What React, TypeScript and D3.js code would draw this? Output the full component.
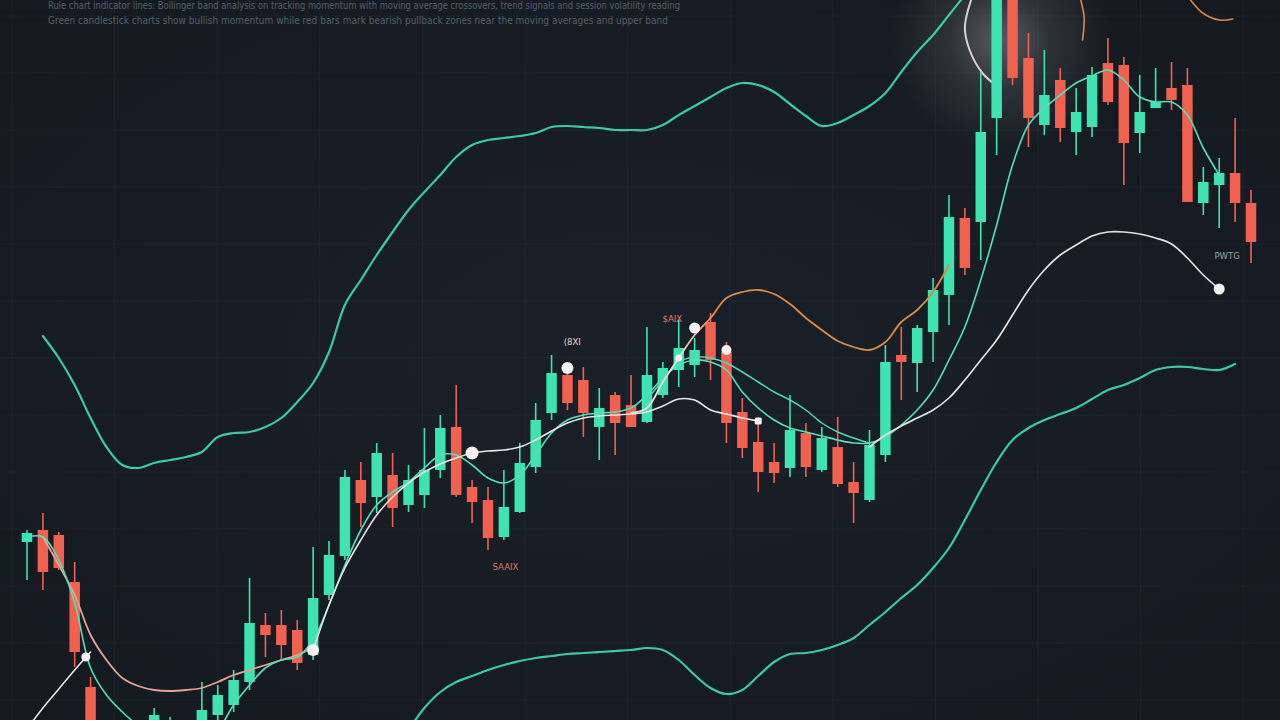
import React from 'react';
import * as d3 from 'd3';

const W = 1280;
const H = 720;

// ---- candles (index 0..77) ----
const candleOpen = [117.8,119.0,118.5,113.8,103.3,99.2,96.0,98.8,98.0,97.5,97.0,99.0,100.5,101.5,103.8,109.5,109.5,109.0,106.5,112.5,116.4,124.0,122.3,124.5,121.5,122.5,125.0,129.3,123.3,122.0,118.3,120.8,125.3,130.7,134.5,134.0,129.3,132.5,131.5,129.8,132.5,135.0,135.5,139.8,136.8,130.8,127.8,125.8,125.2,128.7,125.0,127.3,123.8,122.0,126.5,136.5,135.7,138.8,142.5,150.2,149.8,160.2,173.0,166.2,159.5,164.0,158.8,159.3,165.7,165.5,158.7,161.2,163.2,163.5,151.7,153.5,154.7,151.7];
const candleHigh = [119.0,120.7,118.8,115.8,104.3,99.6,99.2,99.4,101.2,100.3,99.3,103.8,103.5,105.0,114.2,110.7,111.0,110.0,117.3,117.9,125.0,125.8,127.7,126.7,125.5,129.2,130.5,133.5,124.0,123.3,125.0,127.7,131.7,136.5,135.7,135.3,133.2,132.8,134.5,139.3,135.8,140.0,138.2,140.7,137.8,132.2,130.0,127.7,132.5,129.7,129.3,130.3,125.8,129.0,137.5,139.3,139.5,144.2,152.5,151.2,164.8,175.0,175.0,168.7,167.0,165.2,163.2,165.3,168.2,166.3,164.5,165.2,165.8,165.2,155.3,156.2,160.2,153.0];
const candleLow = [114.0,113.0,115.0,105.3,98.5,96.0,95.0,96.5,97.0,96.5,96.2,98.0,100.0,100.8,103.0,106.3,106.0,105.0,106.0,112.0,116.0,119.3,120.7,119.3,120.8,121.2,124.2,122.3,119.7,117.0,118.0,120.7,124.7,130.0,131.0,128.3,126.0,126.5,129.3,129.7,132.2,133.3,134.3,134.0,127.7,126.2,122.8,123.7,124.3,124.3,124.8,123.3,119.7,121.8,125.8,132.0,132.8,135.8,139.5,144.5,146.0,156.5,163.5,157.3,158.5,157.8,156.5,158.3,161.5,153.5,156.7,161.2,161.0,151.8,150.5,149.2,149.8,145.7];
const candleClose = [118.7,114.8,115.2,106.8,99.5,97.0,98.4,97.2,100.5,99.6,98.8,101.0,102.5,104.0,109.7,108.5,107.5,105.7,112.2,116.5,124.3,121.7,126.7,121.2,124.0,125.0,129.2,122.5,121.8,118.2,121.3,125.7,130.0,134.7,131.7,130.7,131.2,129.7,129.3,134.5,135.2,137.2,137.0,136.0,129.7,127.2,124.8,124.7,129.0,125.3,128.2,123.6,122.7,127.5,135.8,135.8,139.2,143.0,150.3,145.2,158.8,174.0,164.2,160.2,162.5,159.2,160.8,164.5,161.8,157.7,160.8,161.8,162.0,151.8,153.8,154.7,151.7,147.8];

// ---- overlay lines: first index + values ----
const upperBandStart = 1;
const upperBand = [138.4,136.2,133.5,130.2,127.3,125.5,125.2,125.7,126.0,126.3,126.8,128.3,128.7,128.8,129.3,130.2,131.8,133.7,136.8,141.5,144.0,146.5,148.8,151.0,152.8,154.5,156.3,157.5,158.0,158.2,158.4,158.7,159.3,159.4,159.3,159.2,159.0,159.0,159.0,159.5,160.5,161.4,162.3,163.2,163.7,163.5,162.8,161.6,160.4,159.4,159.7,160.5,161.4,162.7,164.8,166.8,168.5,170.5,172.5];
const lowerBandStart = 24;
const lowerBand = [99.0,101.2,102.8,103.8,104.4,105.0,105.5,105.9,106.2,106.4,106.6,106.7,106.8,106.9,107.0,107.2,107.0,106.0,104.5,103.2,102.6,103.0,104.4,105.8,106.6,106.7,107.0,107.5,108.2,109.5,110.8,112.2,113.5,115.2,117.2,120.0,123.0,125.8,128.0,129.2,130.0,130.6,131.2,132.1,133.0,133.5,134.2,135.0,135.3,135.3,135.1,135.0,135.6];
const maFastStart = 0;
const maFast = [118.3,118.3,116.0,111.7,105.2,102.5,100.8,99.4,98.0,97.5,97.5,98.0,99.0,101.5,103.5,105.2,106.0,106.3,108.0,111.5,115.5,119.0,121.5,122.8,123.8,125.2,126.5,126.5,125.5,124.2,123.7,124.5,126.5,128.7,130.0,130.5,130.7,130.8,131.2,132.5,134.2,135.5,136.0,135.8,135.0,132.8,131.2,130.0,129.2,128.8,128.4,128.0,127.7,127.7,128.3,129.5,131.0,133.0,136.0,139.3,144.0,149.5,155.5,159.5,161.2,162.5,163.7,164.4,165.0,164.0,162.3,161.8,161.8,160.5,157.2,154.5];
const maMidStart = 39;
const maMid = [132.0,134.0,135.8,136.3,136.2,135.7,134.8,133.8,132.8,132.0,131.0,129.7,128.8,128.2,127.7];
const salmonStart = 1;
const salmonLine = [118.3,115.5,112.5,108.5,106.0,104.2,103.4,103.0,102.9,103.0,103.2,103.8,104.5,105.0,105.5,106.0,106.5,107.2];
const whiteLeftStart = 0;
const whiteLeft = [99.1,101.2,103.1,105.0,106.8];
const whiteMidStart = 18;
const whiteMid = [107.0,111.5,115.2,118.0,120.5,122.3,123.7,124.8,125.6,126.2,126.7,126.9,127.0,127.3,128.0,128.9,129.7,130.2,130.4,130.5,130.6,130.8,131.4,132.1,132.0,131.0,130.6,130.2,129.9];
const whiteRightStart = 53;
const whiteRight = [127.3,128.5,129.4,130.2,131.0,132.2,134.0,136.0,138.0,140.5,143.0,145.0,146.5,147.5,148.4,148.8,148.8,148.6,148.2,147.6,146.2,144.5,143.1];
const orangeStart = 38;
const orangeLine = [130.7,131.2,133.8,136.2,138.5,140.2,142.2,142.8,143.0,142.6,141.6,140.2,139.0,137.9,137.3,137.0,137.8,139.8,141.0,142.8,145.5];

// decorative arcs near the top edge: [index, price]
const whiteArc: [number, number][] = [[59.5,172.5],[59.0,169.3],[59.3,167.0],[60.1,164.7],[61.1,163.3]];
const orangeArcA: [number, number][] = [[66.2,172.5],[66.5,170.3],[66.4,168.0]];
const orangeArcB: [number, number][] = [[72.96,172.5],[73.96,170.7],[75.03,170.0],[75.85,170.1]];

// markers
const markerIndex = [0, 3.7, 18, 28, 34, 41, 42, 44, 46, 75];
const markerPrice = [118.3, 106.3, 107.0, 126.7, 135.2, 136.2, 139.2, 137.0, 129.9, 143.1];
const markerShape = ['sq', 'c', 'c', 'c', 'c', 'c', 'c', 'c', 'sq', 'c'];
const markerSize = [7, 4.5, 6, 6.5, 6, 3.5, 5.5, 5, 7, 5.5];

// small labels
const labelText = ['(8XI', '$AIX', 'SAAIX', 'PWTG'];
const labelIndex = [34.3, 40.6, 30.1, 75.5];
const labelPrice = [137.9, 140.2, 115.4, 146.5];
const labelColor = ['#e6d6cc', '#ef7a63', '#e2705e', '#9aa1a8'];

const headerLines = [
  'Rule chart indicator lines: Bollinger band analysis on tracking momentum with moving average crossovers, trend signals and session volatility reading',
  'Green candlestick charts show bullish momentum while red bars mark bearish pullback zones near the moving averages and upper band',
];

const GREEN = '#3fe3b1';
const RED = '#f0614f';
const BAND = '#3cc9a6';

export default function App() {
  const x = d3.scaleLinear().domain([0, 77]).range([27, 1251]);
  const y = d3.scaleLinear().domain([100, 172]).range([H, 0]);
  const seg = (start: number, vals: number[]) => vals.map((v, k) => [start + k, v] as [number, number]);
  const line = d3
    .line<[number, number]>()
    .x((d) => x(d[0]))
    .y((d) => y(d[1]))
    .curve(d3.curveCatmullRom.alpha(0.5));

  const gridX = d3.range(12, W, 102.6);
  const gridY = d3.range(102, 172, 5.7).map((p) => y(p));

  const bodyW = 10.5;

  return (
    <svg width={W} height={H} style={{ position: 'fixed', left: 0, top: 0, background: '#161b22' }}>
      <defs>
        <radialGradient id="glow" cx={x(61.2)} cy={y(168)} r={110} gradientUnits="userSpaceOnUse">
          <stop offset="0" stopColor="#ffffff" stopOpacity={0.28} />
          <stop offset="0.45" stopColor="#ffffff" stopOpacity={0.1} />
          <stop offset="1" stopColor="#ffffff" stopOpacity={0} />
        </radialGradient>
        <radialGradient id="vig" cx="50%" cy="50%" r="75%">
          <stop offset="0" stopColor="#1a2029" />
          <stop offset="1" stopColor="#141920" />
        </radialGradient>
        <linearGradient id="orangeGrad" x1={x(41)} x2={x(43.3)} y1={0} y2={0} gradientUnits="userSpaceOnUse">
          <stop offset="0" stopColor="#e6e0dc" />
          <stop offset="1" stopColor="#d98a48" />
        </linearGradient>
      </defs>
      <rect width={W} height={H} fill="url(#vig)" />
      <rect width={W} height={H} fill="url(#glow)" />

      <g stroke="#ffffff" strokeOpacity={0.035} strokeWidth={1}>
        {gridX.map((gx, k) => (
          <line key={'gx' + k} x1={gx} x2={gx} y1={0} y2={H} />
        ))}
        {gridY.map((gy, k) => (
          <line key={'gy' + k} x1={0} x2={W} y1={gy} y2={gy} />
        ))}
      </g>

      <g fontFamily="'DejaVu Sans Condensed', 'DejaVu Sans', sans-serif" fontSize={10} fill="#52616b">
        <text x={48} y={9} textLength={632} lengthAdjust="spacingAndGlyphs">{headerLines[0]}</text>
        <text x={48} y={24} textLength={620} lengthAdjust="spacingAndGlyphs">{headerLines[1]}</text>
      </g>

      {/* bands */}
      <g fill="none" strokeLinecap="round">
        <path d={line(seg(upperBandStart, upperBand)) || ''} stroke={BAND} strokeWidth={2.2} />
        <path d={line(seg(lowerBandStart, lowerBand)) || ''} stroke={BAND} strokeWidth={2.2} />
        <path d={line(whiteArc) || ''} stroke="#d9d2ce" strokeWidth={2} />
        <path d={line(orangeArcA) || ''} stroke="#cf8a55" strokeWidth={1.6} />
        <path d={line(orangeArcB) || ''} stroke="#d98848" strokeWidth={1.6} />
      </g>

      {/* candles */}
      <g>
        {candleOpen.map((o, i) => {
          const c = candleClose[i];
          const up = c >= o;
          const col = up ? GREEN : RED;
          const top = y(Math.max(o, c));
          const bot = y(Math.min(o, c));
          const cx = x(i);
          return (
            <g key={'c' + i}>
              <line x1={cx} x2={cx} y1={y(candleHigh[i])} y2={y(candleLow[i])} stroke={col} strokeWidth={1.6} />
              <rect x={cx - bodyW / 2} y={top} width={bodyW} height={Math.max(2, bot - top)} fill={col} />
            </g>
          );
        })}
      </g>

      {/* moving averages */}
      <g fill="none" strokeLinecap="round" strokeLinejoin="round">
        <path d={line(seg(salmonStart, salmonLine)) || ''} stroke="#e4a493" strokeWidth={1.8} />
        <path d={line(seg(maMidStart, maMid)) || ''} stroke="#4fd6b2" strokeWidth={1.5} />
        <path d={line(seg(maFastStart, maFast)) || ''} stroke="#55dfba" strokeWidth={1.6} />
        <path d={line(seg(whiteLeftStart, whiteLeft)) || ''} stroke="#e8e4e2" strokeWidth={1.6} />
        <path d={line(seg(whiteMidStart, whiteMid)) || ''} stroke="#e8e4e2" strokeWidth={1.6} />
        <path d={line(seg(whiteRightStart, whiteRight)) || ''} stroke="#e2dedd" strokeWidth={1.7} />
        <path d={line(seg(orangeStart, orangeLine)) || ''} stroke="url(#orangeGrad)" strokeWidth={1.8} />
      </g>

      {/* markers */}
      <g>
        {markerIndex.map((mi, k) => {
          const cx = x(mi);
          const cy = y(markerPrice[k]);
          const s = markerSize[k];
          const fill = k === 0 ? GREEN : '#f4f2f0';
          return markerShape[k] === 'sq' ? (
            <rect key={'m' + k} x={cx - s / 2} y={cy - s / 2} width={s} height={s} rx={1.5} fill={fill} />
          ) : (
            <circle key={'m' + k} cx={cx} cy={cy} r={s} fill={fill} />
          );
        })}
      </g>

      {/* labels */}
      <g fontFamily="'DejaVu Sans Condensed', 'DejaVu Sans', sans-serif" fontSize={9.5} textAnchor="middle">
        {labelText.map((t, k) => (
          <text key={'l' + k} x={x(labelIndex[k])} y={y(labelPrice[k]) + 4} fill={labelColor[k]}>
            {t}
          </text>
        ))}
      </g>
    </svg>
  );
}
